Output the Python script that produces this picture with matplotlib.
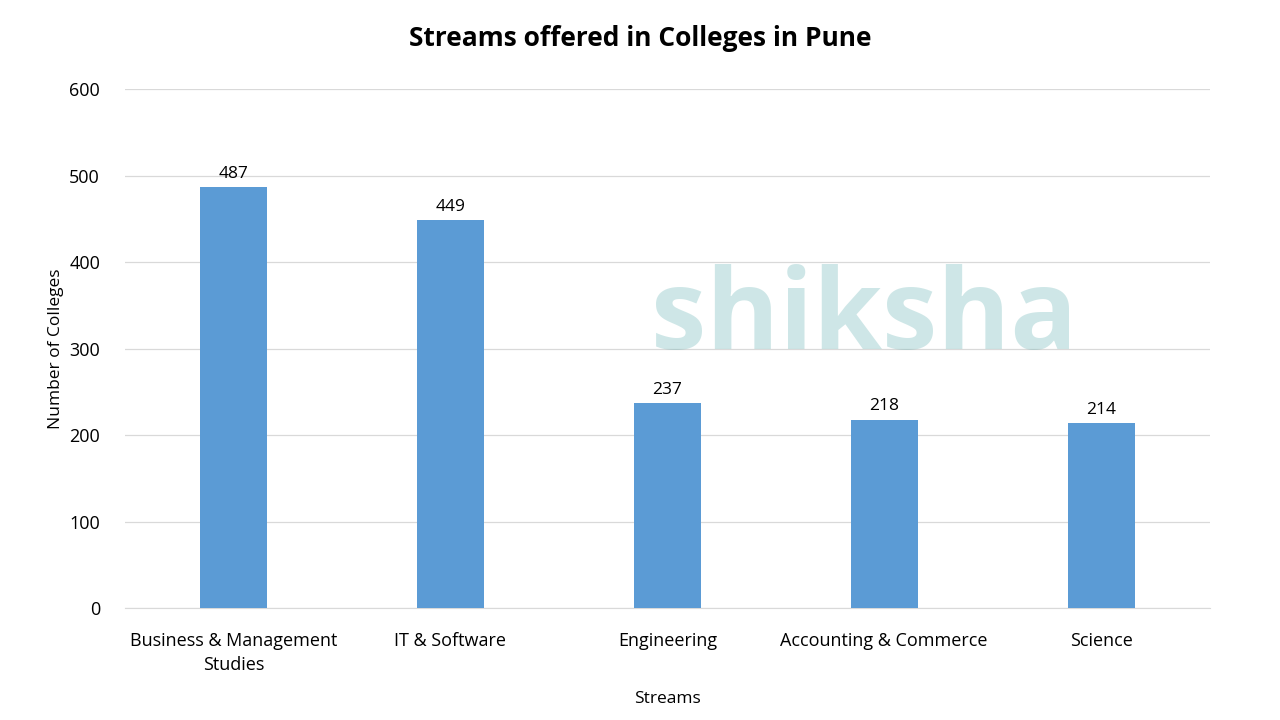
import matplotlib
matplotlib.use("Agg")
import matplotlib.pyplot as plt

categories = ["Business & Management\nStudies", "IT & Software", "Engineering", "Accounting & Commerce", "Science"]
values = [487, 449, 237, 218, 214]
yticks = [0, 100, 200, 300, 400, 500, 600]

plt.rcParams['font.family'] = ['Open Sans', 'DejaVu Sans']
fig = plt.figure(figsize=(12.8, 7.2), dpi=100)
ax = fig.add_axes([0.0977, 0.1556, 0.8473, 0.7204])
x = range(len(categories))
bars = ax.bar(x, values, width=0.31, color="#5B9BD5", zorder=3)
for xi, v in zip(x, values):
    ax.text(xi, v + 6, str(v), ha="center", va="bottom", fontsize=12.5, color="#000000")
ax.set_xlim(-0.5, len(categories) - 0.5)
ax.set_ylim(0, 600)
ax.set_yticks(yticks)
ax.set_xticks(list(x))
ax.set_xticklabels(categories, fontsize=13, linespacing=1.45)
ax.tick_params(axis='y', labelsize=13, length=0, pad=18)
ax.tick_params(axis='x', length=0, pad=17)
ax.grid(axis='y', color="#D9D9D9", linewidth=0.9, zorder=0)
for s in ["top", "right", "left"]:
    ax.spines[s].set_visible(False)
ax.spines["bottom"].set_color("#D9D9D9")
ax.set_ylabel("Number of Colleges", fontsize=12.5)
ax.set_xlabel("Streams", fontsize=12.5, labelpad=12)
fig.text(0.5, 0.947, "Streams offered in Colleges in Pune", ha="center", va="center",
         fontsize=19, fontweight="bold")
fig.text(0.675, 0.555, "shiksha", ha="center", va="center", fontsize=80,
         color="#5FAFB0", alpha=0.3, fontweight="bold", zorder=0)
fig.savefig("out.png", dpi=100)
